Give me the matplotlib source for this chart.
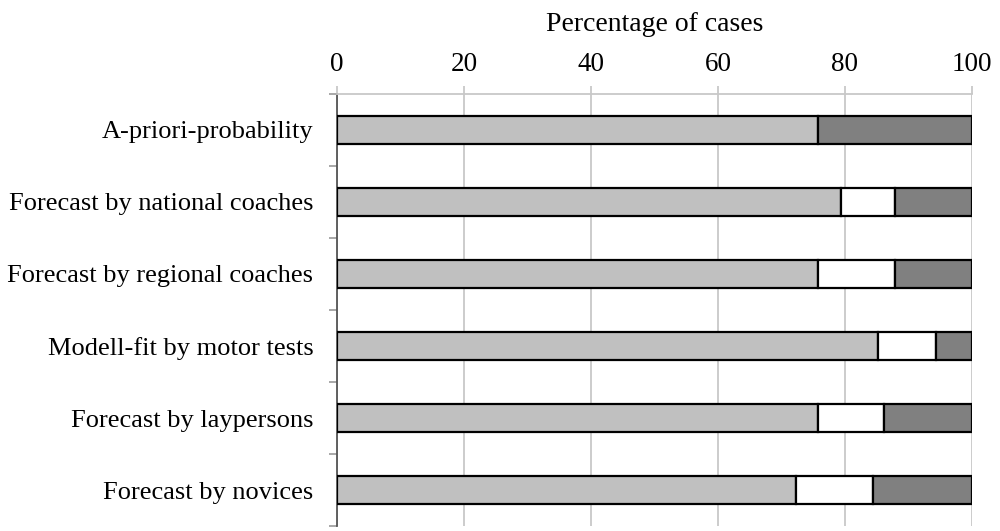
import matplotlib.pyplot as plt
import numpy as np

categories = [
    "A-priori-probability",
    "Forecast by national coaches",
    "Forecast by regional coaches",
    "Modell-fit by motor tests",
    "Forecast by laypersons",
    "Forecast by novices",
]
light_pct = [75.8, 79.3, 75.8, 85.2, 75.8, 72.3]
white_pct = [0.0, 8.6, 12.1, 9.2, 10.3, 12.1]
dark_pct = [24.2, 12.1, 12.1, 5.6, 13.9, 15.6]
x_ticks = [0, 20, 40, 60, 80, 100]

plt.rcParams["font.family"] = ["Liberation Serif", "DejaVu Serif"]

fig = plt.figure(figsize=(10, 5.31), dpi=100)
ax = fig.add_axes([0.337, 0.0094, 0.635, 0.8136])

y = np.arange(len(categories))
light = np.array(light_pct)
white = np.array(white_pct)
dark = np.array(dark_pct)

bar_kw = dict(height=0.4, edgecolor="black", linewidth=1.6, zorder=3)
ax.barh(y, light, color="#c0c0c0", **bar_kw)
mask = white > 0
ax.barh(y[mask], white[mask], left=light[mask], color="white", **bar_kw)
ax.barh(y, dark, left=light + white, color="#808080", **bar_kw)

ax.set_xlim(0, 100)
ax.set_ylim(len(categories) - 0.5, -0.5)
ax.xaxis.tick_top()
ax.xaxis.set_label_position("top")
ax.set_xticks(x_ticks)
ax.set_xlabel("Percentage of cases", fontsize=20, labelpad=15)
ax.grid(axis="x", color="#c8c8c8", linewidth=1.3, zorder=0)

ax.set_yticks(y)
ax.set_yticklabels(categories, fontsize=19)
ax.set_yticks(np.arange(len(categories) + 1) - 0.5, minor=True)
ax.tick_params(axis="y", which="major", length=0, pad=17)
ax.tick_params(axis="y", which="minor", length=6, color="#999999", width=1.2)
ax.tick_params(axis="x", length=6, color="#c8c8c8", width=1.3, labelsize=19.5, pad=6)

for side in ("right", "bottom"):
    ax.spines[side].set_visible(False)
ax.spines["top"].set_color("#c8c8c8")
ax.spines["top"].set_linewidth(1.3)
ax.spines["left"].set_color("#555555")
ax.spines["left"].set_linewidth(1.3)

fig.savefig("out.png", dpi=100)
